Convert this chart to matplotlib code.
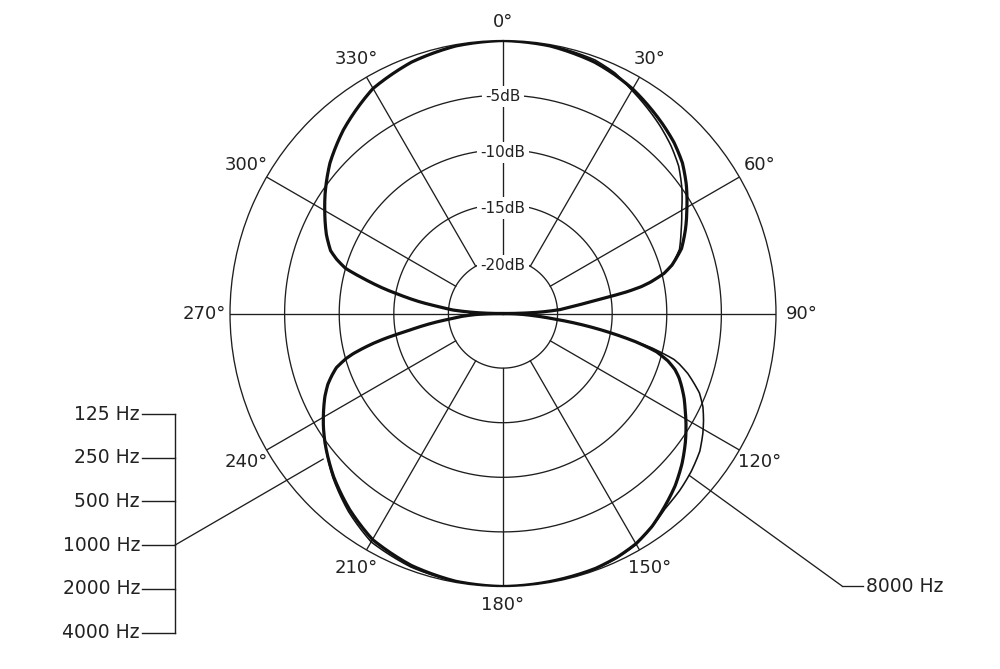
import numpy as np
import matplotlib
matplotlib.use("Agg")
import matplotlib.pyplot as plt
from matplotlib.path import Path
from matplotlib.patches import PathPatch
from matplotlib.lines import Line2D

# ---------------- data ----------------
angles_deg = [0, 10, 20, 25, 30, 40, 45, 50, 55, 60, 65, 70, 74, 76, 78, 79, 80, 81,
              82, 84, 86, 88, 90, 92, 94, 96, 98, 100, 102, 103, 104, 105, 106, 108,
              110, 112, 115, 118, 121, 125, 130, 135, 140, 145, 150, 155, 160, 170,
              180, 190, 200, 210, 218, 226, 234, 238, 242, 245, 248, 250, 252, 254,
              255, 256, 257, 258, 259, 260, 262, 264, 266, 268, 270, 272, 274, 276,
              278, 280, 282, 284, 286, 288, 290, 292, 294, 300, 304, 311, 319, 330,
              340, 350, 360]

# 125 / 250 / 500 / 1000 / 2000 / 4000 Hz (practically identical curves)
group_db = [0, -0.12, -0.5, -0.85, -1.25, -2.3, -2.85, -3.55, -4.5, -5.55, -6.55,
            -7.6, -8.9, -9.8, -11.2, -12.1, -13.4, -15.1, -16.6, -18.5, -19.7, -21.8,
            -25, -23.6, -22.2, -20.4, -17.8, -15.2, -12.6, -11.5, -10.5, -9.9, -9.3,
            -8.45, -7.85, -7.38, -6.7, -6.1, -5.45, -4.6, -3.6, -2.7, -1.95, -1.2,
            -0.65, -0.35, -0.17, -0.08, 0, -0.1, -0.45, -1.1, -2.2, -3.45, -4.85,
            -5.6, -6.4, -7.0, -7.7, -8.3, -8.95, -10.05, -10.8, -11.75, -12.75,
            -13.9, -15.2, -16.4, -18.2, -20.0, -21.2, -22.6, -25, -22.5, -20.4,
            -19.2, -17.3, -15.6, -13.7, -11.9, -10.0, -9.0, -8.2, -7.75, -7.3, -6.15,
            -5.35, -4.0, -2.72, -1.2, -0.5, -0.12, 0]

# 8000 Hz
hf_db = [0, -0.05, -0.3, -0.7, -1.4, -2.6, -3.25, -4.0, -5.0, -6.1, -7.0,
         -7.8, -8.9, -9.8, -11.2, -12.1, -13.4, -15.1, -16.6, -18.5, -19.7, -21.8,
         -25, -23.6, -22.2, -20.4, -17.8, -15.2, -12.6, -11.0, -9.9, -8.8, -8.2,
         -7.2, -6.4, -5.6, -4.8, -4.2, -3.65, -3.0, -2.5, -2.1, -1.8, -1.2,
         -0.6, -0.3, -0.15, -0.08, 0, -0.08, -0.3, -0.85, -2.0, -3.35, -4.85,
         -5.6, -6.4, -7.0, -7.7, -8.3, -8.95, -10.05, -10.8, -11.75, -12.75,
         -13.9, -15.2, -16.4, -18.2, -20.0, -21.2, -22.6, -25, -22.5, -20.4,
         -19.2, -17.3, -15.6, -13.7, -11.9, -10.0, -9.0, -8.2, -7.75, -7.3, -6.15,
         -5.35, -4.0, -2.72, -1.2, -0.5, -0.12, 0]

ring_levels = [-5, -10, -15, -20]
ring_labels = ["-5dB", "-10dB", "-15dB", "-20dB"]
spoke_angles = [0, 30, 60, 90, 120, 150, 180, 210, 240, 270, 300, 330]
spoke_labels = ["0°", "30°", "60°", "90°", "120°", "150°", "180°", "210°", "240°",
                "270°", "300°", "330°"]
group_freqs = ["125 Hz", "250 Hz", "500 Hz", "1000 Hz", "2000 Hz", "4000 Hz"]
hf_label = "8000 Hz"

R_MIN, R_MAX = -25, 0

# ---------------- figure ----------------
W, H = 1000, 669
fig = plt.figure(figsize=(W / 100, H / 100), dpi=100)
fig.patch.set_facecolor("white")


def fx(px):
    return px / W


def fy(py):
    return 1 - py / H


ax = fig.add_axes([0.230, 0.1233, 0.546, 0.8161], projection="polar")
ax.set_theta_zero_location("N")
ax.set_theta_direction(-1)
ax.set_rlim(R_MIN, R_MAX)
ax.grid(False)
ax.set_xticks([])
ax.set_yticks([])
ax.set_facecolor("none")

grid_c = "#1e1e1e"
text_c = "#222222"
curve_c = "#111111"
glw = 0.95

ax.spines["polar"].set_linewidth(glw)
ax.spines["polar"].set_color(grid_c)

theta_full = np.linspace(0, 2 * np.pi, 721)
for lvl in ring_levels:
    ax.plot(theta_full, np.full_like(theta_full, lvl), color=grid_c, lw=glw, zorder=1)

for a in spoke_angles:
    inner = R_MIN if a % 180 == 90 else ring_levels[-1]
    ax.plot([np.deg2rad(a)] * 2, [inner, R_MAX], color=grid_c, lw=glw, zorder=1)

for a, lbl in zip(spoke_angles, spoke_labels):
    t = np.deg2rad(a)
    r_lbl = 1.72 + 0.62 * np.sin(t) ** 2
    ax.text(t, r_lbl, lbl, ha="center", va="center", fontsize=13, color=text_c,
            clip_on=False)

label_shift = [-0.05, 0.1, 0.2, 0.5]
for lvl, lbl, sh in zip(ring_levels, ring_labels, label_shift):
    ax.text(0, lvl - sh, lbl, ha="center", va="center_baseline", fontsize=11,
            color=text_c, zorder=4,
            bbox=dict(boxstyle="square,pad=0.2", fc="white", ec="none"))


def polar_curve(values, lw):
    verts = np.column_stack([np.deg2rad(angles_deg),
                             np.clip(values, R_MIN, R_MAX)])
    path = Path(verts, _interpolation_steps=40)
    patch = PathPatch(path, fill=False, lw=lw, ec=curve_c, joinstyle="round",
                      capstyle="round", zorder=5)
    ax.add_patch(patch)


polar_curve(hf_db, 1.15)
polar_curve(group_db, 2.3)

# ---------------- callouts ----------------
lab_x = 140
bar_x = 175
y0, step = 414, 43.7
ys = [y0 + i * step for i in range(len(group_freqs))]
for y, lbl in zip(ys, group_freqs):
    fig.text(fx(lab_x), fy(y), lbl, ha="right", va="center", fontsize=13.5,
             color=text_c)
    fig.add_artist(Line2D([fx(lab_x + 2), fx(bar_x)], [fy(y), fy(y)],
                          transform=fig.transFigure, color=grid_c, lw=1.0))
fig.add_artist(Line2D([fx(bar_x), fx(bar_x)], [fy(ys[0]), fy(ys[-1])],
                      transform=fig.transFigure, color=grid_c, lw=1.0))

g_ang = 231
g_r = np.interp(g_ang, angles_deg, group_db) + 0.5
ax.annotate("", xy=(np.deg2rad(g_ang), g_r), xycoords="data",
            xytext=(fx(bar_x), fy(ys[3])), textcoords="figure fraction",
            arrowprops=dict(arrowstyle="-", lw=0.95, color=grid_c,
                            shrinkA=0, shrinkB=0), annotation_clip=False)

h_ang = 131
h_r = np.interp(h_ang, angles_deg, hf_db)
elbow = (842, 586)
ax.annotate("", xy=(np.deg2rad(h_ang), h_r), xycoords="data",
            xytext=(fx(elbow[0]), fy(elbow[1])), textcoords="figure fraction",
            arrowprops=dict(arrowstyle="-", lw=0.95, color=grid_c,
                            shrinkA=0, shrinkB=0), annotation_clip=False)
fig.add_artist(Line2D([fx(elbow[0]), fx(863)], [fy(elbow[1]), fy(elbow[1])],
                      transform=fig.transFigure, color=grid_c, lw=0.95))
fig.text(fx(866), fy(elbow[1]), hf_label, ha="left", va="center",
         fontsize=13.5, color=text_c)

fig.savefig("out.png", dpi=100, facecolor="white")
